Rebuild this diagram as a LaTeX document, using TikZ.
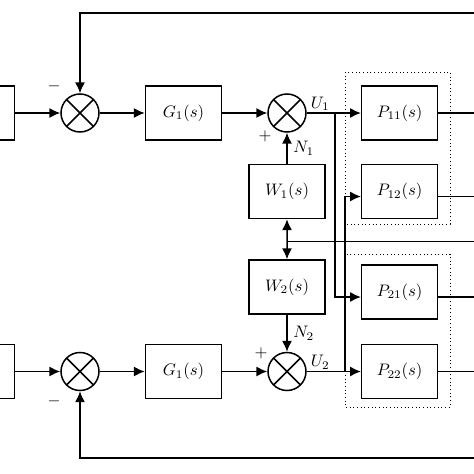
\documentclass[tikz,border=0pt]{standalone}
\usetikzlibrary{positioning,arrows.meta,calc}

\begin{document}
\begin{tikzpicture}[x=0.6pt,y=-0.6pt,line width=0.9pt,
		block/.style={draw,minimum width=45.6pt,minimum height=32.4pt,inner sep=0pt},
		sumnode/.style={circle,draw,minimum size=22.8pt,inner sep=0pt,
			path picture={\draw (path picture bounding box.north west) -- (path picture bounding box.south east)
				(path picture bounding box.north east) -- (path picture bounding box.south west);}},
		arr/.style={-{Latex[length=6.5pt,width=6pt]}},
		dotbox/.style={line width=0.6pt,dash pattern=on 0.6pt off 1.6pt},
		sgn/.style={inner sep=0pt}]
		\useasboundingbox (0,0) rectangle (474,474);
		\clip (0,0) rectangle (474,474);
		\coordinate (rt) at (474,0);

		% upper loop
		\node[sumnode]					(sum1) at (80,113)	{};
		\node[block,left=27pt of sum1]		(in1)	{};
		\node[block,right=27pt of sum1]		(G1)	{$G_1(s)$};
		\node[sumnode,right=27pt of G1]		(sum2)	{};
		\node[block,right=32.5pt of sum2]	(P11)	{$P_{11}(s)$};
		\node[block,below=13.8pt of P11]	(P12)	{$P_{12}(s)$};
		\node[block,below=27pt of P12]		(P21)	{$P_{21}(s)$};
		\node[block,below=14.4pt of P21]	(P22)	{$P_{22}(s)$};
		\node[block,below=18.6pt of sum2]	(W1)	{$W_1(s)$};
		\node[block,below=24pt of W1]		(W2)	{$W_2(s)$};
		\node[sumnode,below=22.2pt of W2]	(sum4)	{};

		% lower loop
		\node[sumnode]	(sum3) at (sum1 |- sum4)	{};
		\node[block]	(in2) at (in1 |- sum4)		{};
		\node[block]	(G2) at (G1 |- sum4)		{$G_1(s)$};

		\draw[dotbox] (345,72) rectangle (450,224);
		\draw[dotbox] (345,254) rectangle (450,407);

		\draw[arr] (in1) -- (sum1);
		\draw[arr] (sum1) -- (G1);
		\draw[arr] (G1) -- (sum2);
		\draw[arr] (sum2) -- node[pos=0.25,above,inner sep=1pt] {$U_1$} (P11);
		\draw[arr] (W1) -- node[right] {$N_1$} (sum2);

		\draw[arr] (in2) -- (sum3);
		\draw[arr] (sum3) -- (G2);
		\draw[arr] (G2) -- (sum4);
		\draw[arr] (sum4) -- node[pos=0.25,above,inner sep=1pt] {$U_2$} (P22);
		\draw[arr] (W2) -- node[right] {$N_2$} (sum4);

		\node[sgn] at ([shift={(-12,-13)}]sum1.north west)	{$-$};
		\node[sgn] at ([shift={(-8,9)}]sum2.south west)		{$+$};
		\node[sgn] at ([shift={(-12,-4)}]sum4.north west)	{$+$};
		\node[sgn] at ([shift={(-12,16)}]sum3.south west)	{$-$};

		% cross couplings
		\path (sum2.east) ++(28,0) coordinate (b1);
		\path (sum4.east) ++(38,0) coordinate (b2);
		\draw[arr] (b1) |- ([yshift=-3pt]P21.west);
		\draw[arr] (b2) |- ([yshift=-3pt]P12.west);

		\coordinate (wm) at ($(W1.south)!0.55!(W2.north)$);
		\draw[arr] (wm) -- (W1);
		\draw[arr] (wm) -- (W2);
		\draw (wm) -- (wm -| rt);

		% outputs
		\draw (P11) -- (P11 -| rt);
		\draw ([yshift=-3pt]P12.east) -- ([yshift=-3pt]P12.east -| rt);
		\draw ([yshift=-3pt]P21.east) -- ([yshift=-3pt]P21.east -| rt);
		\draw (P22) -- (P22 -| rt);

		% feedback
		\coordinate (fb1) at (474,13);
		\coordinate (fb2) at (474,458);
		\draw[arr] (fb1) -| (sum1);
		\draw[arr] (fb2) -| (sum3);
	\end{tikzpicture}
\end{document}
